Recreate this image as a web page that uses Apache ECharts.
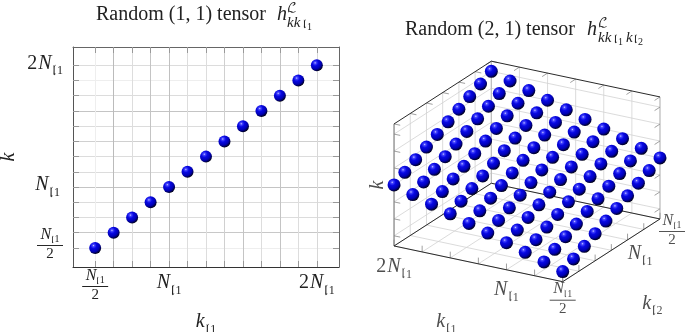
<!DOCTYPE html>
<html><head><meta charset="utf-8">
<style>html,body{margin:0;padding:0;background:#fff}#c{width:685px;height:332px}</style>
<script src="https://cdn.jsdelivr.net/npm/echarts@6/dist/echarts.min.js"></script>
</head><body><div id="c"></div>
<script>
// ---- data ----
const leftK1 = [4,5,6,7,8,9,10,11,12,13,14,15,16];
const leftK  = [4,5,6,7,8,9,10,11,12,13,14,15,16];
const leftTicks = [4,8,16];
const k1Values = [3,4,5,6,7,8,9,10,11,12];
const k2Values = [3,4,5,6,7,8,9,10,11,12];
const kRows = [
 [6,7,8,9,10,11,12,13,14,15],
 [7,8,9,10,11,12,13,14,15,16],
 [8,9,10,11,12,13,14,15,16,17],
 [9,10,11,12,13,14,15,16,17,18],
 [10,11,12,13,14,15,16,17,18,19],
 [11,12,13,14,15,16,17,18,19,20],
 [12,13,14,15,16,17,18,19,20,21],
 [13,14,15,16,17,18,19,20,21,22],
 [14,15,16,17,18,19,20,21,22,23],
 [15,16,17,18,19,20,21,22,23,24]
];
const gridK1 = [3,4.5,6,7.5,9,10.5,12];
const gridK2 = [3,4.5,6,7.5,9,10.5,12];
const gridK  = [6,9,12,15,18,21,24];
const labelK1 = [3,6,12];
const labelK2 = [3,6];
const L = '\u{1D529}';

// ---- 3D box ----
const k1Lo=3,k1Hi=12,k2Lo=3,k2Hi=12,kLo=4.2,kHi=25.8;
const org=[562.7,281.7], ex=[-18.74,-3.97], ey=[10.81,-6.97], ez=[0,-5.65];
function P(a,b,c){return [org[0]+(a-k1Lo)*ex[0]+(b-k2Lo)*ey[0]+(c-kLo)*ez[0],
                          org[1]+(a-k1Lo)*ex[1]+(b-k2Lo)*ey[1]+(c-kLo)*ez[1]];}
function segs(list){const o=[];list.forEach(s=>{o.push(P(...s[0]),P(...s[1]),[null,null]);});return o;}

const wallGrid=[];
gridK2.forEach(b=>{wallGrid.push([[k1Hi,b,kLo],[k1Hi,b,kHi]]);wallGrid.push([[k1Lo,b,kLo],[k1Hi,b,kLo]]);});
gridK1.forEach(a=>{wallGrid.push([[a,k2Hi,kLo],[a,k2Hi,kHi]]);wallGrid.push([[a,k2Lo,kLo],[a,k2Hi,kLo]]);});
gridK.forEach(c=>{wallGrid.push([[k1Hi,k2Lo,c],[k1Hi,k2Hi,c]]);wallGrid.push([[k1Lo,k2Hi,c],[k1Hi,k2Hi,c]]);});
const ticks3=[];
const dA=0.33,dB=0.5,dC=1.1;
gridK2.forEach(b=>{ticks3.push([[k1Hi,b,kHi],[k1Hi-dA,b,kHi]]);ticks3.push([[k1Lo,b,kLo],[k1Lo,b,kLo+dC]]);});
gridK1.forEach(a=>{ticks3.push([[a,k2Hi,kHi],[a,k2Hi-dB,kHi]]);ticks3.push([[a,k2Lo,kLo],[a,k2Lo,kLo+dC]]);});
gridK.forEach(c=>{ticks3.push([[k1Hi,k2Lo,c],[k1Hi-dA,k2Lo,c]]);ticks3.push([[k1Lo,k2Hi,c],[k1Lo,k2Hi-dB,c]]);});
const darkEdges=[
 [[k1Lo,k2Lo,kLo],[k1Hi,k2Lo,kLo]],[[k1Lo,k2Lo,kLo],[k1Lo,k2Hi,kLo]],
 [[k1Hi,k2Lo,kLo],[k1Hi,k2Hi,kLo]],[[k1Lo,k2Hi,kLo],[k1Hi,k2Hi,kLo]],
 [[k1Hi,k2Lo,kHi],[k1Hi,k2Hi,kHi]],[[k1Lo,k2Hi,kHi],[k1Hi,k2Hi,kHi]]
];
const midEdges=[[[k1Hi,k2Lo,kLo],[k1Hi,k2Lo,kHi]]];
const paleEdges=[[[k1Lo,k2Hi,kLo],[k1Lo,k2Hi,kHi]],[[k1Hi,k2Hi,kLo],[k1Hi,k2Hi,kHi]]];

const points3=[];
for(let j=k2Values.length-1;j>=0;j--)for(let i=k1Values.length-1;i>=0;i--){
  points3.push(P(k1Values[i],k2Values[j],kRows[i][j]));
}

// ---- text ----
const INK='#222';
const SERIF='"Liberation Serif","DejaVu Serif",serif';
const MATH='"DejaVu Math TeX Gyre","DejaVu Serif","Noto Sans",serif';
const rich={
 N:{fontFamily:SERIF,fontStyle:'italic',fontSize:20,color:INK,padding:[0,0,4,0]},
 R:{fontFamily:SERIF,fontSize:20,color:INK,padding:[0,1,4,0]},
 s:{fontFamily:MATH,fontSize:12,color:INK,verticalAlign:'bottom',padding:[0,0,0,1]},
 d:{fontFamily:SERIF,fontSize:12,color:INK,verticalAlign:'bottom'},
 pad:{width:3},
 gap:{height:8,lineHeight:8,fontSize:1,align:'center'},
 fn:{fontFamily:SERIF,fontStyle:'italic',fontSize:16,color:INK,align:'center',padding:[0,0,2,0]},
 fs:{fontFamily:MATH,fontSize:9,color:INK,align:'center',verticalAlign:'bottom'},
 fd:{fontFamily:SERIF,fontSize:10,color:INK,align:'center',verticalAlign:'bottom'},
 bar:{width:26,height:1,lineHeight:2,backgroundColor:INK,align:'center',fontSize:1},
 two:{fontFamily:SERIF,fontSize:15,color:INK,align:'center',lineHeight:15}
};
const tN='{N|N}{s|'+L+'}{d|1}';
const t2N='{R|2}{N|N}{s|'+L+'}{d|1}';
const tFrac='{fn|N}{fs|'+L+'}{fd|1}\n{bar| }\n{two|2}';
function tickText(v,pad){
 if(v===4||v===3)return tFrac+(pad?'\n{gap| }':'');
 if(v===8||v===6)return tN+(pad?'{pad|}':'');
 return t2N;
}
const kTitle=(n)=>'{K|k}{s|'+L+'}{d|'+n+'}';
const richT=Object.assign({K:{fontFamily:SERIF,fontStyle:'italic',fontSize:20,color:INK,padding:[0,0,4,0]}},rich);
const kPlain={fontFamily:SERIF,fontStyle:'italic',fontSize:20,color:INK};

function piece(text,left,top,style){return {text:text,left:left,top:top,padding:0,itemGap:0,textStyle:Object.assign({fontFamily:SERIF,color:INK,fontWeight:'normal',fontSize:20},style||{})};}
const titles=[
 piece('Random (1, 1) tensor',96,5),
 piece('h',277,5,{fontStyle:'italic'}),
 piece('\u2112',287,2,{fontFamily:MATH,fontSize:13}),
 piece('kk',287,16,{fontStyle:'italic',fontSize:15}),
 piece(L,303,19,{fontFamily:MATH,fontSize:11}),
 piece('1',307,22,{fontSize:10}),
 piece('Random (2, 1) tensor',405,20),
 piece('h',587,20,{fontStyle:'italic'}),
 piece('\u2112',598,17,{fontFamily:MATH,fontSize:13}),
 piece('kk',598,31,{fontStyle:'italic',fontSize:15}),
 piece(L,614,34,{fontFamily:MATH,fontSize:11}),
 piece('1',618,37,{fontSize:10}),
 piece('k',626,31,{fontStyle:'italic',fontSize:15}),
 piece(L,634,34,{fontFamily:MATH,fontSize:11}),
 piece('2',638,37,{fontSize:10})
];

// ---- ball ----
const ball={type:'radial',x:0.36,y:0.3,r:0.72,colorStops:[
 {offset:0,color:'#c8c8ff'},{offset:0.12,color:'#4848ff'},{offset:0.35,color:'#0808e4'},{offset:0.7,color:'#0000b4'},{offset:0.9,color:'#000050'},{offset:1,color:'#000010'}]};

const xColors=['#eee','#bbb','#ddd','#c4c4c4','#c0c0c0','#ddd','#ddd','#d0d0d0','#c4c4c4','#ddd','#c4c4c4','#ddd','#d8d8d8'];
const yColors=['#eee','#c8c8c8','#dcdcdc','#dcdcdc','#c4c4c4','#dcdcdc','#dcdcdc','#d0d0d0','#dcdcdc','#c4c4c4','#dcdcdc','#eee','#dcdcdc'];
const xMin=2.8,xMax=17.2,yMin=2.75,yMax=17.2;
function frameAxis(o){return Object.assign({type:'value',gridIndex:0,axisLine:{show:true,onZero:false,lineStyle:{color:'#666',width:1}},
  axisTick:{show:true,inside:true,length:6,customValues:leftK1,lineStyle:{color:'#999'}},axisLabel:{show:false},splitLine:{show:false}},o);}
const hiddenAxis=(a,b,inv)=>({type:'value',gridIndex:1,min:a,max:b,inverse:!!inv,show:false,splitLine:{show:false}});

function segSeries(list,color,w,name){return {type:'line',name:name,xAxisIndex:2,yAxisIndex:2,data:segs(list),showSymbol:false,symbol:'none',silent:true,animation:false,clip:false,connectNulls:false,
 lineStyle:{color:color,width:w},z:2};}
function labelSeries(name,items){return {type:'scatter',name:name,xAxisIndex:2,yAxisIndex:2,symbolSize:1,silent:true,animation:false,clip:false,itemStyle:{color:'transparent'},z:5,
 data:items.map(it=>({value:it.at,label:{show:true,position:'inside',rotate:it.rot||0,align:'center',verticalAlign:'middle',formatter:it.text,rich:richT}}))};}
function shift(p,dx,dy){return [p[0]+dx,p[1]+dy];}

const option={
 animation:false,backgroundColor:'#fff',
 title:titles,
 grid:[{left:73,top:47,width:266,height:220,outerBoundsMode:'none'},{left:345,top:0,width:340,height:332,outerBoundsMode:'none'}],
 xAxis:[
  frameAxis({position:'bottom',min:xMin,max:xMax,
    axisLine:{show:true,onZero:false,lineStyle:{color:'#333',width:1}},
    axisLabel:{show:true,customValues:leftTicks,margin:18,verticalAlign:'middle',formatter:v=>tickText(v),rich:rich},
    splitLine:{show:true,lineStyle:{color:xColors,width:1}},
    name:kTitle(1),nameLocation:'middle',nameGap:45,nameTextStyle:{rich:richT}}),
  frameAxis({position:'top',min:xMin,max:xMax}),
  hiddenAxis(345,685)
 ],
 yAxis:[
  frameAxis({position:'left',min:yMin,max:yMax,
    axisLine:{show:true,onZero:false,lineStyle:{color:'#555',width:1}},
    axisLabel:{show:true,customValues:leftTicks,margin:10,align:'right',verticalAlign:'middle',formatter:v=>tickText(v,true),rich:rich},
    splitLine:{show:true,lineStyle:{color:yColors,width:1}},
    name:'k',nameLocation:'middle',nameGap:54,nameRotate:90,nameTextStyle:kPlain}),
  frameAxis({position:'right',min:yMin,max:yMax}),
  hiddenAxis(0,332,true)
 ],
 series:[
  {type:'scatter',name:'left',xAxisIndex:0,yAxisIndex:0,symbolSize:12,data:leftK1.map((v,i)=>[v,leftK[i]]),
   itemStyle:{color:ball,opacity:1},z:4,clip:false},
  segSeries(wallGrid,'#d2d2d2',0.8,'grid3'),
  segSeries(paleEdges,'#bbb',1,'pale'),
  segSeries(midEdges,'#777',1,'mid'),
  segSeries(ticks3,'#888',0.8,'ticks3'),
  segSeries(darkEdges,'#2a2a2a',1,'edges'),
  {type:'scatter',name:'right',xAxisIndex:2,yAxisIndex:2,symbolSize:13,data:points3,clip:false,
   itemStyle:{color:ball,opacity:1},z:4},
  labelSeries('k1ticks',labelK1.map(a=>{
    const p=P(a,k2Lo,kLo);
    if(a===3)return {at:shift(p,0,17),text:tickText(a)};
    if(a===6)return {at:shift(p,0,22),text:tickText(a)};
    return {at:shift(p,0,23),text:tickText(a)};
  })),
  labelSeries('k2ticks',labelK2.map(b=>{
    const p=P(k1Lo,b,kLo);
    if(b===3)return {at:[P(k1Lo,k2Hi,kLo)[0]+12,P(k1Lo,k2Hi,kLo)[1]+11],text:tickText(3)};
    return {at:shift(p,45,-5),text:tickText(b)};
  })),
  labelSeries('names',[
    {at:shift(P(7.5,k2Lo,kLo),-32,60),text:kTitle(1)},
    {at:shift(P(k1Lo,7.5,kLo),41,55),text:kTitle(2)},
    {at:shift(P(k1Hi,k2Lo,15),-14,0),text:'{K|k}',rot:90}
  ])
 ]
};
const chart=echarts.init(document.getElementById('c'),null,{renderer:'canvas'});
chart.setOption(option);
</script></body></html>
